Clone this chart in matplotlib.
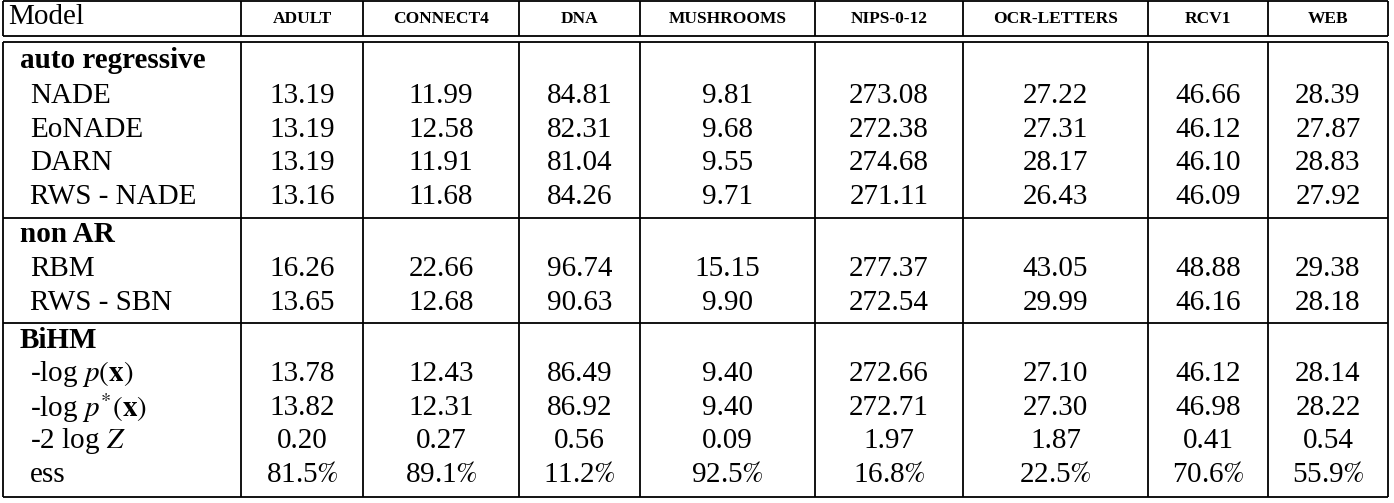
import matplotlib
matplotlib.use("Agg")
import matplotlib.pyplot as plt

plt.rcParams['font.family'] = ['Liberation Serif', 'DejaVu Serif']
plt.rcParams['mathtext.fontset'] = 'stix'

datasets = ["ADULT", "CONNECT4", "DNA", "MUSHROOMS", "NIPS-0-12", "OCR-LETTERS", "RCV1", "WEB"]
sections = ["auto regressive", "non AR", "BiHM"]
models = [
    ["NADE", "EoNADE", "DARN", "RWS - NADE"],
    ["RBM", "RWS - SBN"],
    [r"-log $p(\mathbf{x})$", r"-log $p^{*}(\mathbf{x})$", r"-2 log $Z$", "ess"],
]
values = [
    [["13.19", "11.99", "84.81", "9.81", "273.08", "27.22", "46.66", "28.39"],
     ["13.19", "12.58", "82.31", "9.68", "272.38", "27.31", "46.12", "27.87"],
     ["13.19", "11.91", "81.04", "9.55", "274.68", "28.17", "46.10", "28.83"],
     ["13.16", "11.68", "84.26", "9.71", "271.11", "26.43", "46.09", "27.92"]],
    [["16.26", "22.66", "96.74", "15.15", "277.37", "43.05", "48.88", "29.38"],
     ["13.65", "12.68", "90.63", "9.90", "272.54", "29.99", "46.16", "28.18"]],
    [["13.78", "12.43", "86.49", "9.40", "272.66", "27.10", "46.12", "28.14"],
     ["13.82", "12.31", "86.92", "9.40", "272.71", "27.30", "46.98", "28.22"],
     ["0.20", "0.27", "0.56", "0.09", "1.97", "1.87", "0.41", "0.54"],
     [r"81.5$\%$", r"89.1$\%$", r"11.2$\%$", r"92.5$\%$", r"16.8$\%$", r"22.5$\%$", r"70.6$\%$", r"55.9$\%$"]],
]

W, H = 1394, 503
fig = plt.figure(figsize=(W/100, H/100), dpi=100)
ax = fig.add_axes([0, 0, 1, 1])
ax.set_xlim(0, W); ax.set_ylim(H, 0); ax.axis('off')

cols = [3, 241, 363, 519, 640, 815, 963, 1148, 1268, 1388]
lw = 1.3
kw = dict(color='black', lw=lw, solid_capstyle='butt')
# header box
ht, hb = 1, 36
ax.plot([cols[0], cols[-1]], [ht, ht], **kw)
ax.plot([cols[0], cols[-1]], [hb, hb], **kw)
# body
bt, bb = 42, 497
sec_lines = [bt, 218, 323, bb]
for y in sec_lines:
    ax.plot([cols[0], cols[-1]], [y, y], **kw)
for x in cols:
    ax.plot([x, x], [ht, hb], **kw)
    ax.plot([x, x], [bt, bb], **kw)

fs = 21
ax.text(8, 17, "Model", fontsize=fs, va='center', ha='left')
for i, d in enumerate(datasets):
    ax.text((cols[i+1]+cols[i+2])/2, 19, d, fontsize=12.5, fontweight='bold', va='center', ha='center')

sec_y = [60, 235, 340]
row_y = [[96, 130, 163, 197], [269, 303], [374, 408, 441, 475]]
for s in range(3):
    ax.text(20, sec_y[s], sections[s], fontsize=fs, fontweight='bold', va='center', ha='left')
    for r, m in enumerate(models[s]):
        y = row_y[s][r]
        ax.text(30, y, m, fontsize=fs, va='center', ha='left')
        for i, v in enumerate(values[s][r]):
            ax.text((cols[i+1]+cols[i+2])/2, y, v, fontsize=fs, va='center', ha='center')

fig.savefig("out.png", dpi=100)
